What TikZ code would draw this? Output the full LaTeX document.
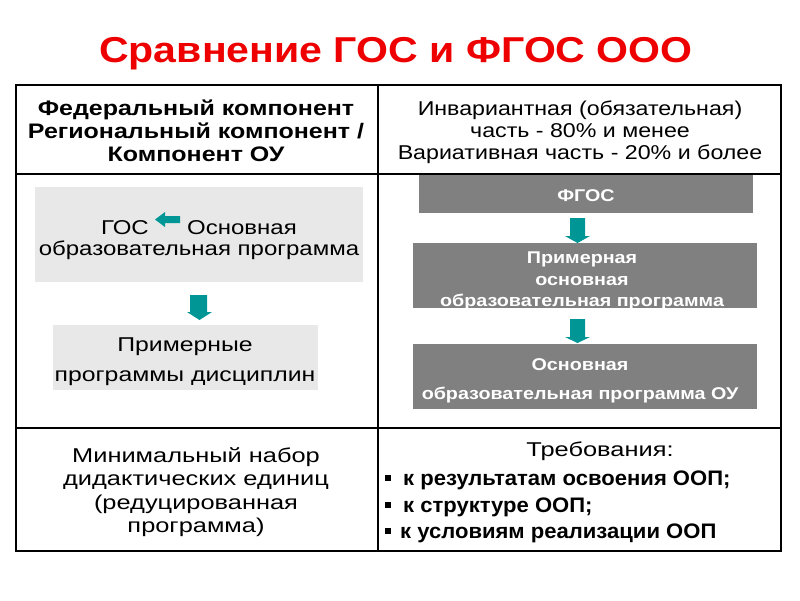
\documentclass[tikz,border=0pt]{standalone}
\usepackage{fontspec}
\setmainfont{Liberation Sans}
\newfontfamily\stA[FakeStretch=1.14]{Liberation Sans}
\newfontfamily\stB[FakeStretch=1.19]{Liberation Sans}
\newfontfamily\stC[FakeStretch=1.2]{Liberation Sans}
\newfontfamily\stD[FakeStretch=1.24]{Liberation Sans}
\newfontfamily\stE[FakeStretch=1.16]{Liberation Sans}
\newfontfamily\stF[FakeStretch=1.05]{Liberation Sans}
\newfontfamily\stG[FakeStretch=1.27]{Liberation Sans}
\definecolor{titlered}{RGB}{238,0,0}
\definecolor{lightbox}{RGB}{232,232,232}
\definecolor{darkbox}{RGB}{128,128,128}
\definecolor{teal2}{RGB}{0,150,150}
\begin{document}
\begin{tikzpicture}[x=1pt,y=-1pt,
  rule/.style={line width=1.3pt,black},
  lbox/.style={fill=lightbox,draw=none},
  dbox/.style={fill=darkbox,draw=none},
  hdr/.style={align=center,font=\stB\fontsize{21}{23}\selectfont\bfseries,inner sep=0pt},
  hdrr/.style={align=center,font=\stE\fontsize{20}{22}\selectfont,inner sep=0pt},
  ltxt/.style={align=center,font=\stC\fontsize{20}{22}\selectfont,inner sep=0pt},
  wtxt/.style={align=center,font=\stE\fontsize{17}{21.5}\selectfont\bfseries,text=white,inner sep=0pt},
  btxt/.style={anchor=west,font=\stF\fontsize{21}{22}\selectfont\bfseries,inner sep=0pt},
  bul/.style={fill=black,minimum size=5.5pt,inner sep=0pt},
  tarrow/.style={fill=teal2,draw=none}
]
\useasboundingbox (0,0) rectangle (800,600);
% title
\node[font=\stA\fontsize{36}{40}\selectfont\bfseries,text=titlered,inner sep=0pt] (title) at (396,54) {Сравнение ГОС и ФГОС ООО};
% table
\draw[rule] (16,85) rectangle (781,551);
\draw[rule] (16,174) -- (781,174);
\draw[rule] (16,428) -- (781,428);
\draw[rule] (378,85) -- (378,551);
% headers
\node[hdr] (h1) at (196,131) {Федеральный компонент\\Региональный компонент /\\Компонент ОУ};
\node[hdrr] (h2) at (580,132) {Инвариантная (обязательная)\\часть - 80\% и менее\\Вариативная часть - 20\% и более};
% left middle
\fill[lbox] (35,187) rectangle (363,282);
\node[ltxt,anchor=east] (gos) at (149,228) {ГОС};
\node[ltxt,anchor=west] (osn) at (187,228) {Основная};
\node[ltxt] (obr) at (199,250) {образовательная программа};
\fill[tarrow] (155,219.5) -- (165,212) -- (165,216) -- (180,216) -- (180,223) -- (165,223) -- (165,227) -- cycle;
\fill[tarrow] (190,295) rectangle (207,312) (187,312) -- (212,312) -- (199.5,320) -- cycle;
\fill[lbox] (53,325) rectangle (318,390);
\node[ltxt,font=\stD\fontsize{20}{30}\selectfont] (prim) at (185,362) {Примерные\\программы дисциплин};
% right middle
\fill[dbox] (419,175) rectangle (753,213);
\node[wtxt] (fgos) at (586,196) {ФГОС};
\fill[tarrow] (570,218) rectangle (585,236) (565,236) -- (590,236) -- (577.5,243) -- cycle;
\fill[dbox] (413,243) rectangle (757,308);
\node[wtxt] (poop) at (582,281) {Примерная\\основная\\образовательная программа};
\fill[tarrow] (570,319) rectangle (585,337) (565,337) -- (590,337) -- (577.5,343) -- cycle;
\fill[dbox] (413,344) rectangle (757,409);
\node[wtxt,font=\stE\fontsize{17}{29}\selectfont\bfseries] (oop) at (580,381) {Основная\\образовательная программа ОУ};
% bottom left
\node[ltxt,font=\stG\fontsize{20}{23.3}\selectfont] (min) at (196,492) {Минимальный набор\\дидактических единиц\\(редуцированная\\программа)};
% bottom right
\node[ltxt,font=\stG\fontsize{20}{23}\selectfont] (treb) at (600,451) {Требования:};
\node[bul] (b1) at (388,478) {};
\node[btxt] (t1) at (403,480) {к результатам освоения ООП;};
\node[bul] (b2) at (388,505) {};
\node[btxt] (t2) at (403,507) {к структуре ООП;};
\node[bul] (b3) at (388,531) {};
\node[btxt] (t3) at (400,533) {к условиям реализации ООП};
\end{tikzpicture}
\end{document}
